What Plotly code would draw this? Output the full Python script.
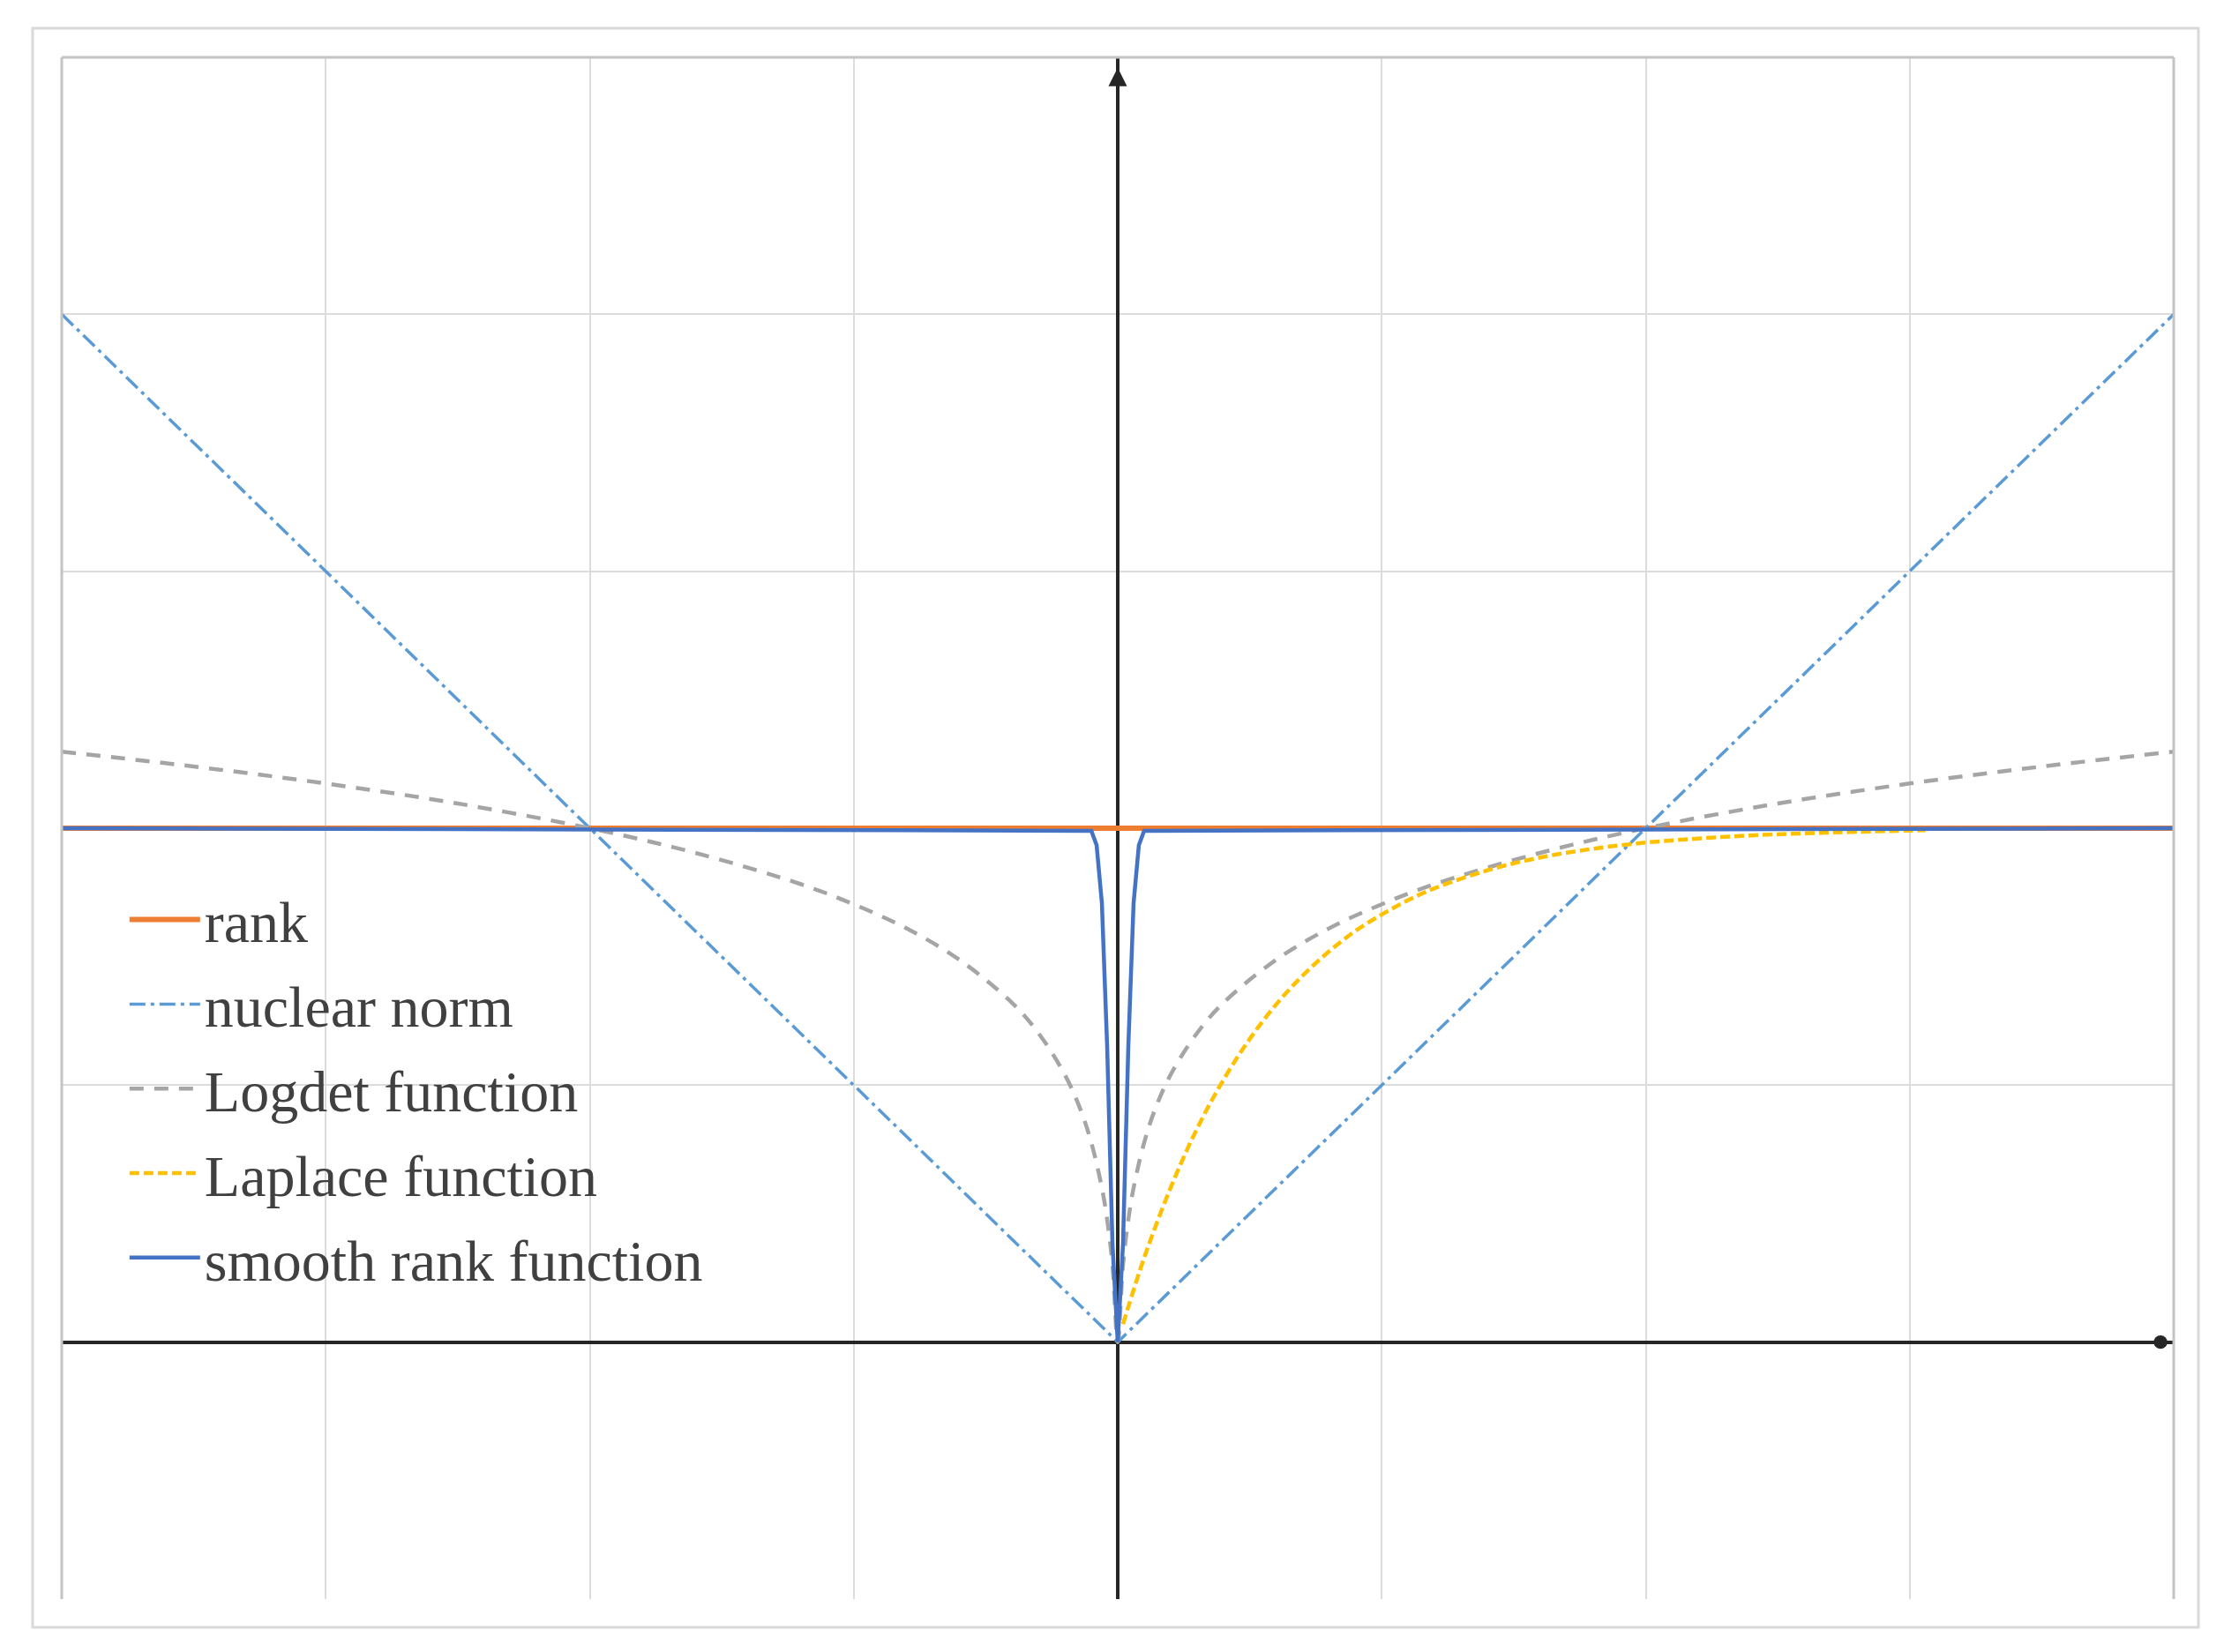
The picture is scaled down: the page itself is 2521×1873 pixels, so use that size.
import plotly.graph_objects as go

# values
rank_x = [-2, 2]
rank_y = [1, 1]

nuclear_x = [-2, 0, 2]
nuclear_y = [2, 0, 2]

logdet_x = [-2, -1.75, -1.5, -1.25, -1, -0.8, -0.6, -0.5, -0.4, -0.3, -0.2, -0.15,
            -0.1, -0.07, -0.05, -0.03, -0.02, -0.01, 0,
            0.01, 0.02, 0.03, 0.05, 0.07, 0.1, 0.15, 0.2, 0.3, 0.4, 0.5, 0.6,
            0.8, 1, 1.25, 1.5, 1.75, 2]
logdet_y = [1.149, 1.120, 1.087, 1.048, 1.0, 0.952, 0.891, 0.852, 0.805, 0.744, 0.660, 0.601,
            0.520, 0.451, 0.388, 0.300, 0.238, 0.150, 0.0,
            0.150, 0.238, 0.300, 0.388, 0.451, 0.520, 0.601, 0.660, 0.744, 0.805, 0.852, 0.891,
            0.952, 1.0, 1.048, 1.087, 1.120, 1.149]

laplace_x = [0.01, 0.05, 0.1, 0.15, 0.2, 0.25, 0.3, 0.35, 0.4, 0.45, 0.5, 0.55, 0.6,
             0.7, 0.8, 0.9, 1.0, 1.1, 1.2, 1.3, 1.4, 1.53]
laplace_y = [0.035, 0.164, 0.300, 0.415, 0.510, 0.590, 0.657, 0.713, 0.760, 0.800, 0.832,
             0.860, 0.883, 0.918, 0.943, 0.960, 0.972, 0.980, 0.986, 0.990, 0.993, 0.996]

smooth_x = [-2, -0.05, -0.04, -0.03, -0.02, -0.01, 0, 0.01, 0.02, 0.03, 0.04, 0.05, 2]
smooth_y = [1, 0.995, 0.967, 0.854, 0.574, 0.192, 0, 0.192, 0.574, 0.854, 0.967, 0.995, 1]

fig = go.Figure()
fig.add_trace(go.Scatter(x=rank_x, y=rank_y, name='rank', mode='lines', legendgroup='a',
                         line=dict(color='#ED7D31', width=6)))
fig.add_trace(go.Scatter(x=nuclear_x, y=nuclear_y, name='nuclear norm', mode='lines',
                         legendgroup='b',
                         line=dict(color='#5B9BD5', width=3.5, dash='18px,6px,4px,6px')))
fig.add_trace(go.Scatter(x=logdet_x, y=logdet_y, name='Logdet function', mode='lines',
                         legendgroup='c',
                         line=dict(color='#A5A5A5', width=4.5, dash='16px,12px', shape='spline')))
fig.add_trace(go.Scatter(x=laplace_x, y=laplace_y, name='Laplace function', mode='lines',
                         legendgroup='d',
                         line=dict(color='#FFC000', width=4.5, dash='11px,5px', shape='spline')))
fig.add_trace(go.Scatter(x=smooth_x, y=smooth_y, name='smooth rank function', mode='lines',
                         legendgroup='e',
                         line=dict(color='#4472C4', width=4.5)))

# plot frame (left, top, right) and the outer chart border
frame = '#C4C4C4'
fig.add_shape(type='line', xref='paper', yref='paper', x0=0, x1=0, y0=0, y1=1,
              line=dict(color=frame, width=3))
fig.add_shape(type='line', xref='paper', yref='paper', x0=1, x1=1, y0=0, y1=1,
              line=dict(color=frame, width=3))
fig.add_shape(type='line', xref='paper', yref='paper', x0=0, x1=1, y0=1, y1=1,
              line=dict(color=frame, width=3))
fig.add_shape(type='rect', xref='paper', yref='paper', x0=-0.0138, x1=1.0117,
              y0=-0.0183, y1=1.0189, line=dict(color='#D9D9D9', width=3))

# axis arrow heads
fig.add_annotation(x=0, y=2.48, ax=0, ay=2.3, xref='x', yref='y', axref='x', ayref='y',
                   text='', showarrow=True, arrowhead=2, arrowsize=1.2, arrowwidth=3.5,
                   arrowcolor='#262626')
fig.add_annotation(x=1.975, y=0, ax=1.9, ay=0, xref='x', yref='y', axref='x', ayref='y',
                   text='', showarrow=True, arrowhead=6, arrowsize=1.1, arrowwidth=3.5,
                   arrowcolor='#262626')

fig.update_xaxes(range=[-2, 2], dtick=0.5, showticklabels=False, ticks='',
                 showgrid=True, gridcolor='#DCDCDC', gridwidth=2,
                 zeroline=True, zerolinecolor='#262626', zerolinewidth=3.5)
fig.update_yaxes(range=[-0.5, 2.5], dtick=0.5, showticklabels=False, ticks='',
                 showgrid=True, gridcolor='#DCDCDC', gridwidth=2,
                 zeroline=True, zerolinecolor='#262626', zerolinewidth=3.5)

fig.update_layout(
    width=2521, height=1873,
    margin=dict(l=62, r=65, t=57, b=68),
    paper_bgcolor='white', plot_bgcolor='white',
    showlegend=True,
    legend=dict(x=0.03, y=0.469, xanchor='left', yanchor='top',
                bgcolor='rgba(0,0,0,0)', borderwidth=0,
                traceorder='grouped', tracegroupgap=7,
                font=dict(family='Liberation Serif', size=66, color='#404040'),
                itemwidth=80),
    hovermode=False,
)

fig.write_html("out.html")
